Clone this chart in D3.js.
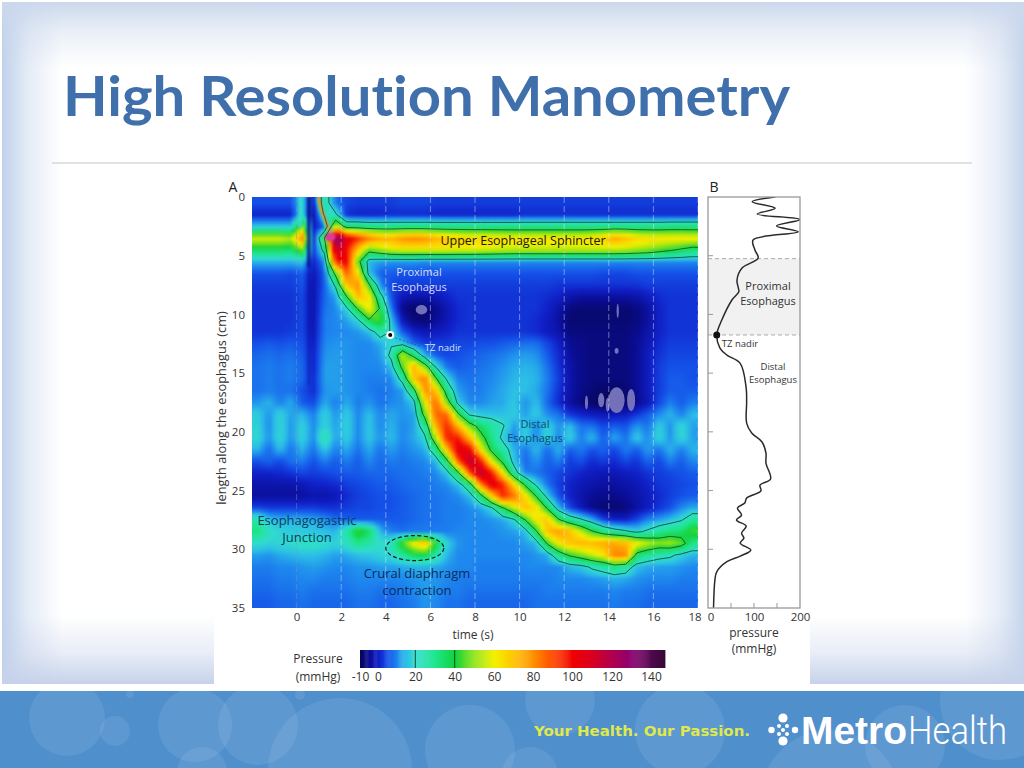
<!DOCTYPE html>
<html><head><meta charset="utf-8">
<style>html,body{margin:0;padding:0;background:#fff;overflow:hidden}svg{display:block}text{font-family:"Open Sans",sans-serif}</style>
<script src="https://cdn.jsdelivr.net/npm/d3@7"></script>
</head><body>
<svg id="s" width="1024" height="768"></svg>
<script>
// ---------- data ----------
const titleText = "High Resolution Manometry";
const timeCenters = d3.range(40).map(i => -1.75 + i * 0.5);
const depthCenters = d3.range(35).map(i => 0.5 + i);
const timeTicks = [0,2,4,6,8,10,12,14,16,18];
const depthTicks = [0,5,10,15,20,25,30,35];
const pressureTicks = [0,100,200];
const legendTicks = [-10,0,20,40,60,80,100,120,140];
const legendLines = [20,40];
const colorValues = [-10,-5,0,5,10,15,20,30,40,50,60,70,80,90,100,110,120,130,140,150];
const colorHexes = ["#06065a","#0a0d95","#1020c8","#1450e8","#1e88ee","#2cc0e6","#30dccc","#1ee68c","#14d23c","#90e414","#f4f000","#ffc400","#ff9000","#ff4a00","#f00000","#d80020","#b00050","#8a0070","#50084c","#2a0630"];
const legendStopValues = [-10,0,20,40,60,80,100,120,140,147];
const legendStopPixels = [360,378,415.3,454.7,494,533,572,612,651,665];
const contourLevels = [20,40];

const pressureGrid = [
[5,5,5,5,17,0,28,8,4,3,  3,3,3,4,4,4,3,3,3,3,  3,3,3,3,3,3,3,3,3,3,  3,3,3,3,3,3,3,3,3,3],
[0,0,0,0,18,-4,22,22,1,0,  0,0,1,1,1,1,0,0,0,0,  0,0,0,0,1,1,1,1,1,1,  1,1,1,1,1,1,1,1,1,1],
[16,16,16,16,50,-2,6,60,32,32,  30,30,30,30,30,30,30,30,30,30,  30,30,30,30,30,30,30,30,30,30,  30,30,30,30,30,30,30,31,31,31],
[58,58,58,54,82,0,40,135,108,95,  84,76,74,80,82,80,74,70,68,66,  66,65,64,63,63,63,63,63,63,63,  65,68,76,72,66,64,63,63,63,62],
[36,36,36,34,48,2,25,115,98,70,  46,52,58,60,60,60,60,60,59,59,  58,57,56,55,55,55,55,55,55,55,  55,55,55,54,52,50,46,42,38,34],
[14,14,14,14,16,0,10,95,102,46,  14,12,11,11,11,10,10,10,10,10,  10,10,10,10,10,10,10,10,10,10,  10,10,10,10,10,10,10,10,10,10],
[5,5,5,4,6,-2,6,45,88,64,  15,6,6,5,5,5,5,5,5,5,  5,5,5,5,5,5,5,5,5,5,  5,4,4,4,5,5,5,5,5,5],
[3,3,3,3,5,-3,6,22,72,80,  42,10,4,3,3,3,3,3,3,3,  3,3,3,3,3,3,3,2,2,2,  2,2,2,2,2,3,3,3,3,3],
[2,2,2,2,4,-3,7,12,40,72,  64,25,4,-2,-3,-3,-2,0,2,2,  2,2,2,2,2,2,1,0,-3,-4,  -4,-4,-4,-4,-3,-1,1,2,2,2],
[2,2,2,2,4,-3,8,10,18,42,  64,38,8,-6,-9,-8,-6,-2,1,2,  2,2,2,2,2,2,0,-3,-7,-8,  -8,-8,-8,-8,-7,-4,0,2,2,2],
[2,2,2,2,4,-3,9,10,12,18,  38,46,15,-2,-7,-8,-5,-2,1,2,  2,2,2,2,2,1,-1,-4,-8,-8,  -8,-8,-8,-8,-7,-4,0,2,2,2],
[2,2,2,3,4,-2,9,10,10,11,  14,26,19,6,0,-2,-1,0,2,2,  2,2,2,2,2,1,-1,-3,-7,-7,  -7,-7,-7,-7,-6,-3,0,2,2,2],
[5,6,5,6,5,-1,10,11,11,10,  10,13,19,17,7,3,3,3,4,4,  5,5,6,7,8,8,4,0,-5,-6,  -7,-7,-7,-7,-5,-2,1,3,3,3],
[7,8,7,8,6,0,11,12,11,10,  10,11,23,56,36,14,6,4,5,6,  7,8,9,11,12,11,6,1,-4,-6,  -7,-7,-7,-7,-5,-1,2,4,4,4],
[8,9,8,9,7,0,12,12,11,10,  10,10,15,44,74,50,20,8,6,7,  8,9,11,13,14,13,8,2,-3,-6,  -7,-7,-7,-7,-5,-1,3,5,5,5],
[8,9,8,9,7,1,12,12,11,10,  9,9,10,24,68,84,42,18,9,8,  9,10,12,14,15,14,9,3,-3,-6,  -7,-7,-7,-7,-5,-1,3,6,6,5],
[8,9,8,8,5,1,11,12,11,10,  9,8,9,12,34,80,72,30,12,9,  9,11,13,15,15,13,8,2,-3,-6,  -8,-9,-9,-8,-5,-1,3,6,6,6],
[11,14,9,13,6,4,13,9,13,9,  11,8,10,11,16,60,88,48,16,10,  10,12,13,16,11,15,7,1,-4,-7,  -9,-10,-10,-9,-6,-2,4,9,6,9],
[17,11,18,12,14,9,18,11,17,10,  15,10,13,11,12,46,88,85,42,18,  16,15,15,17,12,17,10,8,2,0,  -1,-2,-2,-1,2,6,10,14,9,15],
[18,10,19,11,18,10,18,12,18,10,  16,10,14,10,12,27,76,96,72,48,  34,28,21,12,17,10,18,11,15,8,  8,4,6,5,11,8,17,11,19,12],
[19,11,19,11,18,10,26,12,17,10,  16,11,15,10,13,18,55,98,96,72,  46,30,17,10,18,10,19,10,18,9,  15,6,13,8,17,10,19,11,19,12],
[14,7,15,8,14,8,16,9,13,8,  13,8,12,9,11,13,30,72,108,102,  62,36,26,14,8,15,7,14,6,9,  5,7,4,9,6,12,8,14,9,14],
[5,7,4,8,9,5,9,6,9,6,  10,7,9,8,9,10,14,36,88,118,  98,58,36,16,7,11,6,9,3,5,  1,3,1,4,2,7,4,9,6,10],
[0,0,1,2,4,3,4,5,6,6,  7,7,7,8,8,9,10,16,38,88,  118,98,62,26,9,8,6,4,2,0,  -1,-2,-2,-1,0,2,3,4,5,6],
[-3,-3,-3,-3,-2,0,0,1,3,4,  5,6,6,7,8,8,9,10,15,30,  80,108,96,68,38,18,8,3,0,-2,  -3,-4,-4,-3,-2,0,2,3,4,5],
[-4,-4,-4,-4,-4,-3,-3,-2,1,3,  4,5,5,6,7,8,8,9,10,14,  32,66,96,85,65,40,16,5,0,-3,  -5,-6,-6,-5,-3,-1,1,3,5,6],
[4,3,3,3,3,3,2,2,3,4,  4,5,5,6,7,8,8,9,9,10,  12,18,38,56,72,65,38,14,4,-2,  -6,-8,-8,-7,-4,-1,2,5,10,13],
[26,16,14,14,14,13,11,8,7,6,  6,6,6,6,7,8,8,9,9,10,  10,11,12,18,40,62,70,42,28,22,  14,4,0,0,4,10,12,15,19,28],
[32,22,18,17,17,16,15,14,26,44,  36,14,9,8,9,9,9,9,10,10,  10,10,11,12,14,38,72,78,72,56,  42,32,26,22,18,22,28,32,34,44],
[20,18,19,20,22,22,20,18,22,30,  26,20,24,44,62,72,40,17,11,10,  10,10,10,10,12,14,42,62,70,73,  72,76,76,72,62,55,50,52,46,30],
[12,11,13,14,15,15,14,12,13,15,  16,18,20,28,36,38,26,14,10,10,  10,10,10,10,10,11,13,30,42,48,  56,62,82,82,35,28,24,22,17,14],
[9,9,10,10,11,12,11,10,10,11,  11,12,12,13,14,14,13,11,10,10,  9,9,9,9,10,10,10,10,14,16,  22,26,32,28,15,13,12,12,11,10],
[8,8,9,9,10,10,9,9,9,10,  10,10,10,10,11,12,11,10,9,9,  9,9,9,9,9,9,9,10,10,10,  11,12,14,13,11,10,10,10,9,9],
[7,7,8,8,9,8,8,8,8,9,  9,8,8,9,10,12,11,9,9,8,  8,8,8,8,8,8,9,9,9,9,  9,9,10,9,9,8,8,8,8,8],
[6,6,7,7,8,7,7,7,7,8,  8,7,7,8,9,11,10,8,8,7,  7,7,7,7,7,8,8,8,8,8,  8,8,9,8,8,7,7,7,7,7]
];

// narrow features finer than the grid: time (s), depth (cm)
const streakCyanT = [0.17,0.17,0.15], streakCyanD = [0,1.5,2.6];
const streakDarkT = [0.55,0.55], streakDarkD = [0,6];
const streakFaintT = [0.55,0.55], streakFaintD = [6,16];
const streakHotT = [1.0,1.1,1.3,1.5], streakHotD = [0,1,2,3];
const hotBlobT = [1.5], hotBlobD = [3.4];
const paleT = [5.6,14.4,14.35,13.66,13.95,14.35,15.0,13.0];
const paleD = [9.6,9.7,13.1,17.3,17.7,17.3,17.3,17.5];
const paleRt = [0.26,0.05,0.09,0.14,0.09,0.36,0.18,0.07];
const paleRd = [0.4,0.6,0.25,0.6,0.6,1.1,0.95,0.6];
const nadirT = [4.2], nadirD = [11.75];
const crampT = [5.3], crampD = [29.9];

// panel B profile
const profileP = [146,96,146,107,200,149,196,98,102,109,74,63,66,67,52,30,19,26,41,70,83,84,84,95,117,126,126,136,113,115,84,80,64,73,62,83,73,78,70,93,70,41,19,15,12];
const profileD = [0,.4,.96,1.45,1.92,2.47,2.96,3.66,4.51,5.2,6.05,7.07,7.75,8.07,8.77,10.48,11.75,12.86,13.46,14.17,16.27,17.44,19.25,20.1,20.84,21.8,22.66,24.02,24.53,25.02,25.64,26.06,26.49,27.09,27.51,28.02,28.62,29.05,29.47,30.07,30.58,31.06,31.92,32.62,35];
const proximalTop = 5.25, proximalBottom = 11.75;

// ---------- drawing ----------
const svg = d3.select("#s");
const defs = svg.append("defs");
function grad(id,x1,y1,x2,y2,c){
  const g = defs.append("linearGradient").attr("id",id).attr("x1",x1).attr("y1",y1).attr("x2",x2).attr("y2",y2);
  g.append("stop").attr("offset",0).attr("stop-color",c).attr("stop-opacity",1);
  g.append("stop").attr("offset",.45).attr("stop-color",c).attr("stop-opacity",.4);
  g.append("stop").attr("offset",1).attr("stop-color",c).attr("stop-opacity",0);
}
grad("gl",0,0,1,0,"#bfd1eb"); grad("gr",1,0,0,0,"#c6d5ec"); grad("gt",0,0,0,1,"#cbd8ec"); grad("gb",0,1,0,0,"#c6d2ea");
svg.append("rect").attr("width",1024).attr("height",768).attr("fill","#fff");
svg.append("rect").attr("x",2).attr("y",2).attr("width",60).attr("height",682).attr("fill","url(#gl)");
svg.append("rect").attr("x",965).attr("y",2).attr("width",59).attr("height",682).attr("fill","url(#gr)");
svg.append("rect").attr("x",2).attr("y",2).attr("width",1022).attr("height",66).attr("fill","url(#gt)");
svg.append("rect").attr("x",2).attr("y",615).attr("width",1022).attr("height",69).attr("fill","url(#gb)");

// title + rule
svg.append("text").attr("x",63).attr("y",116).text(titleText)
  .attr("textLength",727).attr("lengthAdjust","spacingAndGlyphs")
  .style("font-family","Lato,sans-serif").style("font-variant-ligatures","none").style("font-weight",700).style("font-size","56px").attr("fill","#4070ac");
svg.append("line").attr("x1",52).attr("x2",972).attr("y1",163).attr("y2",163).attr("stroke","#dfe1e3").attr("stroke-width",2);

// white figure panel
svg.append("rect").attr("x",214).attr("y",172).attr("width",596).attr("height",513).attr("fill","#fff");

// footer
svg.append("rect").attr("x",0).attr("y",691).attr("width",1024).attr("height",77).attr("fill","#4f8fcc");
const bubbleX=[67,115,195,258,340,202,470,560,530,680,830,905,1000,130,300];
const bubbleY=[718,731,725,725,770,772,750,700,775,730,800,745,700,694,695];
const bubbleR=[38,15,37,40,72,25,45,35,28,45,70,40,60,4,5];
svg.append("g").attr("clip-path","url(#footclip)").selectAll("circle").data(bubbleX).join("circle")
  .attr("cx",d=>d).attr("cy",(d,i)=>bubbleY[i]).attr("r",(d,i)=>bubbleR[i]).attr("fill","#fff").attr("opacity",.085);
defs.append("clipPath").attr("id","footclip").append("rect").attr("x",0).attr("y",691).attr("width",1024).attr("height",77);
svg.append("text").attr("x",534).attr("y",736).text("Your Health. Our Passion.")
  .attr("textLength",216).attr("lengthAdjust","spacingAndGlyphs")
  .style("font-family","'DejaVu Sans',sans-serif").style("font-weight",700).style("font-size","14px").attr("fill","#dfe84c");
const logoDots=[[783,718,4.6],[783,741,4.6],[771.5,730,3.2],[795,730,3.2],[779,726,2],[787,726,2],[779,734,2],[787,734,2],[783,730,2]];
svg.append("g").selectAll("circle").data(logoDots).join("circle").attr("cx",d=>d[0]).attr("cy",d=>d[1]).attr("r",d=>d[2]).attr("fill","#fff");
svg.append("text").attr("x",801).attr("y",744).text("Metro").attr("textLength",106).attr("lengthAdjust","spacingAndGlyphs")
  .style("font-family","'Liberation Sans',sans-serif").style("font-weight",700).style("font-size","38px").attr("fill","#fff");
svg.append("text").attr("x",908).attr("y",744).text("Health").attr("textLength",99).attr("lengthAdjust","spacingAndGlyphs")
  .style("font-family","Roboto,sans-serif").style("font-weight",300).style("font-size","38px").attr("fill","#fff");

// scales
const x = d3.scaleLinear().domain([-2,18]).range([252,698]);
const y = d3.scaleLinear().domain([0,35]).range([197,608]);
const color = d3.scaleLinear().domain(colorValues).range(colorHexes).clamp(true);
const xB = d3.scaleLinear().domain([0,200]).range([708,800]);
const legendX = d3.scaleLinear().domain(legendStopValues).range(legendStopPixels);

// heat map: the read grid is shaded smoothly, pixel block by pixel block
const f = defs.append("filter").attr("id","soft").attr("filterUnits","userSpaceOnUse")
  .attr("x",200).attr("y",150).attr("width",560).attr("height",520).attr("color-interpolation-filters","sRGB");
f.append("feGaussianBlur").attr("stdDeviation","1.7");
const fs = defs.append("filter").attr("id","soft2").attr("filterUnits","userSpaceOnUse")
  .attr("x",200).attr("y",150).attr("width",560).attr("height",520).attr("color-interpolation-filters","sRGB");
fs.append("feGaussianBlur").attr("stdDeviation","1");
defs.append("clipPath").attr("id","plot").append("rect").attr("x",x(-2)).attr("y",y(0)).attr("width",x(18)-x(-2)).attr("height",y(35)-y(0));
const plot = svg.append("g").attr("clip-path","url(#plot)");
function shade(t,d){
  const cx=Math.max(0,Math.min(38.999,(t-timeCenters[0])/.5)), cy=Math.max(0,Math.min(33.999,d-.5));
  const i=Math.floor(cx), j=Math.floor(cy), u=cx-i, v=cy-j;
  const g=pressureGrid;
  return d3.interpolateNumber(d3.interpolateNumber(g[j][i],g[j][i+1])(u),d3.interpolateNumber(g[j+1][i],g[j+1][i+1])(u))(v);
}
const stepPx=4;
const blocks=[];
for(let py=y(0)-8;py<y(35)+8;py+=stepPx)for(let px=x(-2)-8;px<x(18)+8;px+=stepPx)blocks.push([px,py]);
plot.append("g").attr("filter","url(#soft)").selectAll("rect").data(blocks).join("rect")
  .attr("x",d=>d[0]).attr("y",d=>d[1]).attr("width",stepPx+.5).attr("height",stepPx+.5)
  .attr("fill",d=>color(shade(x.invert(d[0]+stepPx/2),y.invert(d[1]+stepPx/2))));

// narrow streaks
const accents = plot.append("g").attr("filter","url(#soft2)");
const pathOf = (ts,ds)=>d3.line().x((d,i)=>x(ts[i])).y((d,i)=>y(ds[i]))(ts);
accents.append("path").attr("d",pathOf(streakDarkT,streakDarkD)).attr("fill","none").attr("stroke",color(-7)).attr("stroke-width",4).attr("opacity",.75);
accents.append("path").attr("d",pathOf(streakFaintT,streakFaintD)).attr("fill","none").attr("stroke",color(-5)).attr("stroke-width",3).attr("opacity",.35);
accents.append("path").attr("d",pathOf(streakCyanT,streakCyanD)).attr("fill","none").attr("stroke",color(20)).attr("stroke-width",4);
accents.append("path").attr("d",pathOf(streakHotT,streakHotD)).attr("fill","none").attr("stroke",color(18)).attr("stroke-width",6);
accents.append("path").attr("d",pathOf(streakHotT,streakHotD)).attr("fill","none").attr("stroke",color(80)).attr("stroke-width",3);
accents.selectAll("ellipse.hot").data(hotBlobT).join("ellipse").attr("class","hot")
  .attr("cx",d=>x(d)).attr("cy",(d,i)=>y(hotBlobD[i])).attr("rx",5.5).attr("ry",4.5).attr("fill","#dc3a9c");
plot.selectAll("ellipse.pale").data(paleT).join("ellipse").attr("class","pale")
  .attr("cx",d=>x(d)).attr("cy",(d,i)=>y(paleD[i]))
  .attr("rx",(d,i)=>x(d+paleRt[i])-x(d)).attr("ry",(d,i)=>y(paleRd[i])-y(0))
  .attr("fill","#7f7cc2").attr("opacity",.9);

// grid time lines
plot.selectAll("line.gl").data(timeTicks).join("line").attr("class","gl")
  .attr("x1",d=>x(d)).attr("x2",d=>x(d)).attr("y1",y(0)).attr("y2",y(35))
  .attr("stroke",d=>d===0?"#8a8fb8":"#e6e8ff").attr("stroke-opacity",.45).attr("stroke-width",1).attr("stroke-dasharray","6 3");

// contours (padded by one cell so rings close outside the plot)
const n=40,m=35;
const padded=[];
for(let j=-1;j<=m;j++)for(let i=-1;i<=n;i++){padded.push(pressureGrid[Math.max(0,Math.min(m-1,j))][Math.max(0,Math.min(n-1,i))]);}
const cw=(x(18)-x(-2))/n, ch=(y(35)-y(0))/m;
const rings = d3.contours().size([n+2,m+2]).smooth(true).thresholds(contourLevels)(padded);
const line = d3.line().x(p=>x(-2)+(p[0]-1)*cw).y(p=>y(0)+(p[1]-1)*ch).curve(d3.curveLinear);
rings.forEach(c=>c.coordinates.forEach(poly=>poly.forEach(ring=>{
  const xs=ring.map(p=>p[0]-1), ys=ring.map(p=>p[1]-1);
  const area=Math.abs(d3.polygonArea(ring));
  if(area<1) return;
  if(d3.max(xs)<6.5) return;
  if(d3.min(ys)>=26 && d3.max(xs)<18) return;
  plot.append("path").attr("d",line(ring)).attr("fill","none").attr("stroke","#0b5a34").attr("stroke-width",1).attr("opacity",.9);
})));

// heat-map annotations
function label(parent,tx,ty,t,size,fill,anchor){
  return parent.append("text").attr("x",tx).attr("y",ty).text(t).attr("text-anchor",anchor||"middle").style("font-size",size+"px").attr("fill",fill);
}
const anno = svg.append("g");
label(anno,523,244.5,"Upper Esophageal Sphincter",12.5,"#181808");
label(anno,419,276,"Proximal",11,"#d6dcf4");
label(anno,419,291,"Esophagus",11,"#d6dcf4");
label(anno,443,351,"TZ nadir",9.5,"#d6e4f4");
label(anno,535,428,"Distal",11,"#0c4c70");
label(anno,535,442,"Esophagus",11,"#0c4c70");
label(anno,307,525,"Esophagogastric",13,"#0c3c60");
label(anno,307,542,"Junction",13,"#0c3c60");
label(anno,417,578,"Crural diaphragm",13,"#0c2c60");
label(anno,417,595,"contraction",13,"#0c2c60");
anno.selectAll("ellipse.cr").data(crampT).join("ellipse").attr("class","cr")
  .attr("cx",d=>x(d)).attr("cy",(d,i)=>y(crampD[i])).attr("rx",29).attr("ry",12.5)
  .attr("fill","none").attr("stroke","#0a1a40").attr("stroke-width",1.2).attr("stroke-dasharray","4 2.5");
anno.append("line").attr("x1",x(nadirT[0])+5).attr("y1",y(nadirD[0])+3).attr("x2",420).attr("y2",346).attr("stroke","#0b5a80").attr("stroke-width",.7).attr("stroke-dasharray","2 2");
anno.selectAll("circle.nw").data(nadirT).join("circle").attr("class","nw").attr("cx",d=>x(d)).attr("cy",y(nadirD[0])).attr("r",4).attr("fill","#fff");
anno.selectAll("circle.nb").data(nadirT).join("circle").attr("class","nb").attr("cx",d=>x(d)).attr("cy",y(nadirD[0])).attr("r",2).attr("fill","#000");

// axes A
const axText = g => {g.select(".domain").remove();g.selectAll("line").remove();g.selectAll("text").style("font-size","11.5px").attr("fill","#333");};
svg.append("g").attr("transform",`translate(252,0)`).call(d3.axisLeft(y).tickValues(depthTicks).tickSize(0).tickPadding(0)).call(axText)
  .selectAll("text").attr("x",-7);
svg.append("g").attr("transform",`translate(0,608)`).call(d3.axisBottom(x).tickValues(timeTicks).tickSize(0).tickPadding(0)).call(axText)
  .selectAll("text").attr("y",5).attr("dx",d=>d===18?-3.5:0);
label(svg,233,192,"A",14,"#222");
svg.append("text").attr("transform","translate(226,408) rotate(-90)").attr("text-anchor","middle").text("length along the esophagus (cm)").style("font-size","12.8px").attr("fill","#333");
label(svg,473,639,"time (s)",12,"#333");

// panel B
const bPlot = svg.append("g");
bPlot.append("rect").attr("x",xB(0)).attr("y",y(proximalTop)).attr("width",xB(200)-xB(0)).attr("height",y(proximalBottom)-y(proximalTop)).attr("fill","#f1f1f1");
[proximalTop,proximalBottom].forEach(d=>bPlot.append("line").attr("x1",xB(0)).attr("x2",xB(200)).attr("y1",y(d)).attr("y2",y(d)).attr("stroke","#aaa").attr("stroke-dasharray","4 3").attr("stroke-width",1));
defs.append("clipPath").attr("id","bclip").append("rect").attr("x",xB(0)).attr("y",y(0)).attr("width",xB(200)-xB(0)).attr("height",y(35)-y(0));
bPlot.append("path").attr("clip-path","url(#bclip)").datum(profileP)
  .attr("d",d3.line().x(d=>xB(d)).y((d,i)=>y(profileD[i])).curve(d3.curveCatmullRom.alpha(.5)))
  .attr("fill","none").attr("stroke","#2a2a2a").attr("stroke-width",1.5);
bPlot.append("rect").attr("x",xB(0)).attr("y",y(0)).attr("width",xB(200)-xB(0)).attr("height",y(35)-y(0)).attr("fill","none").attr("stroke","#999").attr("stroke-width",1.3);
bPlot.selectAll("line.ty").data(depthTicks.slice(1,7)).join("line").attr("class","ty").attr("x1",xB(0)).attr("x2",xB(0)+5).attr("y1",d=>y(d)).attr("y2",d=>y(d)).attr("stroke","#999");
bPlot.selectAll("line.tx").data([50,100,150]).join("line").attr("class","tx").attr("y1",y(35)).attr("y2",y(35)-5).attr("x1",d=>xB(d)).attr("x2",d=>xB(d)).attr("stroke","#999");
bPlot.append("circle").attr("cx",xB(19)).attr("cy",y(11.75)).attr("r",3.5).attr("fill","#111");
svg.append("g").attr("transform","translate(0,608)").call(d3.axisBottom(xB).tickValues(pressureTicks).tickSize(0).tickPadding(0)).call(axText)
  .selectAll("text").attr("y",5).attr("dx",d=>d===0?2.5:0);
label(svg,714,192,"B",14,"#222");
label(svg,768,290,"Proximal",11,"#333");
label(svg,768,305,"Esophagus",11,"#333");
label(svg,740,347,"TZ nadir",9.5,"#333");
label(svg,773,370,"Distal",9.5,"#333");
label(svg,773,383,"Esophagus",9.5,"#333");
label(svg,754,637,"pressure",12,"#333");
label(svg,754,653,"(mmHg)",12,"#333");

// colour legend
const legendRange = d3.range(-10,147,.5);
svg.append("g").selectAll("rect").data(legendRange).join("rect")
  .attr("x",d=>legendX(d)).attr("y",650).attr("height",18).attr("width",d=>legendX(d+.5)-legendX(d)+.4).attr("fill",d=>color(d));
svg.append("g").selectAll("line").data(legendLines).join("line").attr("x1",d=>legendX(d)).attr("x2",d=>legendX(d)).attr("y1",650).attr("y2",668).attr("stroke","#0b4a30");
svg.append("g").attr("transform","translate(0,668)").call(d3.axisBottom(legendX).tickValues(legendTicks).tickSize(0).tickPadding(0).tickFormat(d=>d)).call(axText)
  .selectAll("text").attr("y",4).style("font-size","12px");
label(svg,318,663,"Pressure",12,"#333");
label(svg,318,681,"(mmHg)",12,"#333");
</script>
</body></html>
